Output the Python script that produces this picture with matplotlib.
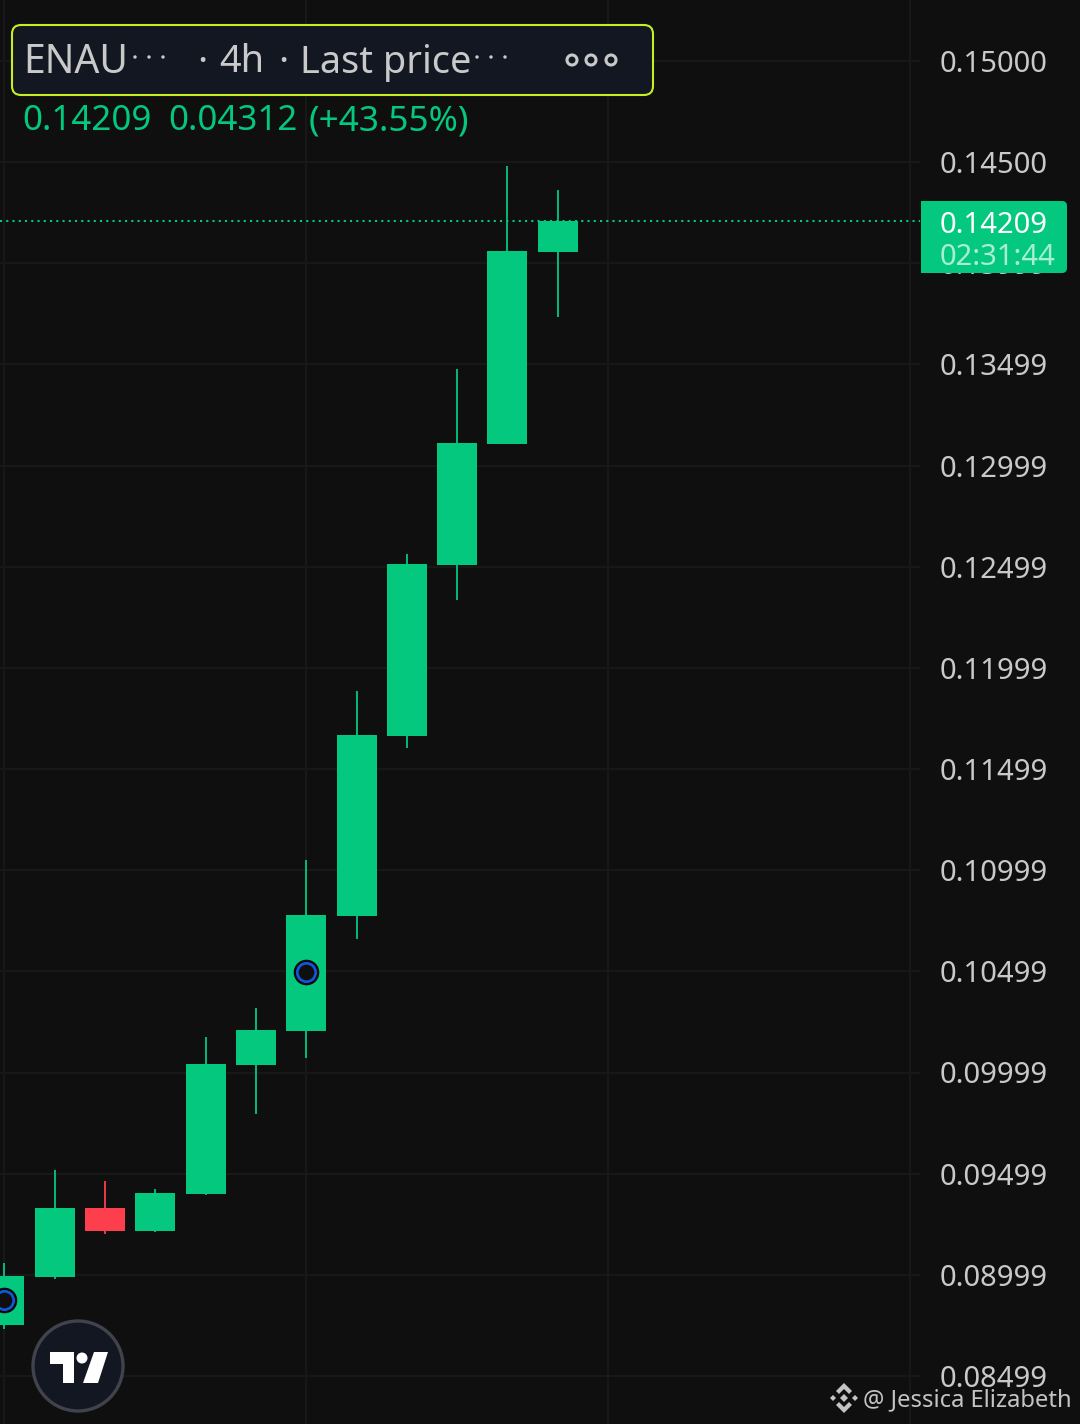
import matplotlib
matplotlib.use("Agg")
from matplotlib import pyplot as plt
from matplotlib.patches import Circle, FancyBboxPatch, Polygon, Rectangle

plt.rcParams['font.family'] = ['Noto Sans', 'DejaVu Sans']

# candle values
candle_idx = [0, 1, 2, 3, 4, 5, 6, 7, 8, 9, 10, 11]
opens = [0.08752, 0.08989, 0.09330, 0.09217, 0.09399, 0.10037, 0.10205, 0.10774, 0.11663, 0.12509, 0.13107, 0.14056]
closes = [0.08994, 0.09330, 0.09217, 0.09404, 0.10042, 0.10210, 0.10779, 0.11668, 0.12514, 0.13112, 0.14061, 0.14209]
highs = [0.09058, 0.09518, 0.09464, 0.09424, 0.10175, 0.10319, 0.11050, 0.11886, 0.12563, 0.13478, 0.14481, 0.14362]
lows = [0.08732, 0.08979, 0.09202, 0.09212, 0.09394, 0.09795, 0.10072, 0.10660, 0.11604, 0.12336, 0.13107, 0.13735]

tick_values = [0.15, 0.145, 0.14, 0.135, 0.13, 0.125, 0.12, 0.115, 0.11, 0.105, 0.10, 0.095, 0.09, 0.085]
tick_labels = ['0.15000', '0.14500', '0.13999', '0.13499', '0.12999', '0.12499', '0.11999',
               '0.11499', '0.10999', '0.10499', '0.09999', '0.09499', '0.08999', '0.08499']
time_grid = [0, 6, 12, 18]

signal_idx = [0, 6]
signal_price = [0.08875, 0.10497]
last_price = 0.14209

BG = '#0f0f0f'
GRID = '#191919'
GREEN = '#03c87e'
RED = '#fd3e4c'
TEXT = '#c9c9c9'
PANEL = '#131722'
LIME = '#c3f01e'

fig = plt.figure(figsize=(10.8, 14.24), dpi=100, facecolor=BG)
ax = fig.add_axes([0, 0, 1, 1], facecolor=BG)

# 101.15 px for every 0.005, 0.15 sits at y=61, candles are 50.3 px apart
per_px = 0.005 / 101.15
ax.set_ylim(0.15 - (1424 - 61) * per_px, 0.15 + 61 * per_px)
ax.set_xlim(-4.5 / 50.3, (1080 - 4.5) / 50.3)

# grid
ax.hlines(tick_values, ax.get_xlim()[0], 18.2, color=GRID, lw=1.4, zorder=1)
ax.set_xticks(time_grid)
ax.set_xticklabels([])
ax.tick_params(axis='x', length=0)
ax.grid(True, axis='x', color=GRID, lw=1.4, zorder=1)
ax.set_axisbelow(True)

ax.yaxis.tick_right()
ax.set_yticks(tick_values)
ax.set_yticklabels(tick_labels)
ax.tick_params(axis='y', length=0, pad=-101.2, labelsize=21, labelcolor=TEXT)
for s in ax.spines.values():
    s.set_visible(False)

# candles
colors = [GREEN if c >= o else RED for o, c in zip(opens, closes)]
ax.vlines(candle_idx, lows, highs, color=colors, lw=1.3, zorder=3)
bottoms = [min(o, c) for o, c in zip(opens, closes)]
heights = [abs(c - o) for o, c in zip(opens, closes)]
ax.bar(candle_idx, heights, bottom=bottoms, width=40 / 50.3, color=colors, zorder=4)

# last price line
ax.hlines(last_price, ax.get_xlim()[0], 18.2, color=GREEN, lw=1.5, linestyles=(0, (1, 2)), zorder=3)

# signal markers
ax.scatter(signal_idx, signal_price, s=340, color='#0a0a0a', zorder=5, linewidths=0)
ax.scatter(signal_idx, signal_price, s=175, facecolor=BG, edgecolor='#1157e0', linewidths=1.9, zorder=6)

# everything else is screen furniture, drawn in pixel coordinates
ov = fig.add_axes([0, 0, 1, 1], facecolor='none')
ov.set_xlim(0, 1080)
ov.set_ylim(1424, 0)
ov.axis('off')

# header box
ov.add_patch(FancyBboxPatch((12, 25), 641, 70, boxstyle='round,pad=0,rounding_size=9',
                            fc=PANEL, ec=LIME, lw=1.5))
head = 27.3
ov.text(23, 58, 'ENAU', color=TEXT, fontsize=28.2, va='center_baseline')
ov.text(197, 58, '·', color=TEXT, fontsize=head, va='center_baseline')
ov.text(219, 58, '4h', color=TEXT, fontsize=head, va='center_baseline')
ov.text(278, 58, '·', color=TEXT, fontsize=head, va='center_baseline')
ov.text(300, 58, 'Last price', color=TEXT, fontsize=head, va='center_baseline')
# the cut-off dots after symbol and price source
for cx in (135, 149, 163, 477, 491, 505):
    ov.add_patch(Circle((cx, 57), 1.7, fc=TEXT, ec='none'))
for cx in (572, 591, 611):
    ov.add_patch(Circle((cx, 60), 5, fc='none', ec=TEXT, lw=2.2))

# ohlc line
ov.text(22, 117, '0.14209', color=GREEN, fontsize=25.1, va='center_baseline')
ov.text(168, 117, '0.04312', color=GREEN, fontsize=25.1, va='center_baseline')
ov.text(309, 117, '(+43.55%)', color=GREEN, fontsize=25.3, va='center_baseline')

# price tag
ov.add_patch(FancyBboxPatch((921, 201), 146, 72, boxstyle='round,pad=0,rounding_size=5', fc=GREEN, ec='none'))
ov.add_patch(Rectangle((921, 201), 20, 72, fc=GREEN, ec='none'))
ov.text(940, 222, '0.14209', color='white', fontsize=21, va='center_baseline')
ov.text(940, 254, '02:31:44', color='#a9eed3', fontsize=21, va='center_baseline')

# tradingview badge
ov.add_patch(Circle((78, 1366), 45, fc=PANEL, ec='#40434c', lw=2.4))
ov.add_patch(Polygon([(50, 1352), (74, 1352), (74, 1383), (63, 1383), (63, 1364), (50, 1364)], fc='white', ec='none'))
ov.add_patch(Circle((82, 1358), 5.5, fc='white', ec='none'))
ov.add_patch(Polygon([(94, 1352), (108, 1352), (98, 1383), (83, 1383)], fc='white', ec='none'))

# watermark
wm = '#c4c4c4'
bx, by = 844, 1398
ov.add_patch(Polygon([(bx, by - 4), (bx + 4, by), (bx, by + 4), (bx - 4, by)], fc=wm, ec='none'))
for sign in (-1, 1):
    ov.add_patch(Polygon([(bx, by + sign * 15), (bx + 8, by + sign * 7), (bx + 5, by + sign * 4), (bx, by + sign * 9),
                          (bx - 5, by + sign * 4), (bx - 8, by + sign * 7)], fc=wm, ec='none'))
    ov.add_patch(Polygon([(bx + sign * 14, by), (bx + sign * 11, by + 3), (bx + sign * 8, by), (bx + sign * 11, by - 3)],
                         fc=wm, ec='none'))
ov.text(863, 1397, '@ Jessica Elizabeth', color=wm, fontsize=17.1, va='center_baseline')

fig.savefig('out.png', dpi=100, facecolor=BG)
